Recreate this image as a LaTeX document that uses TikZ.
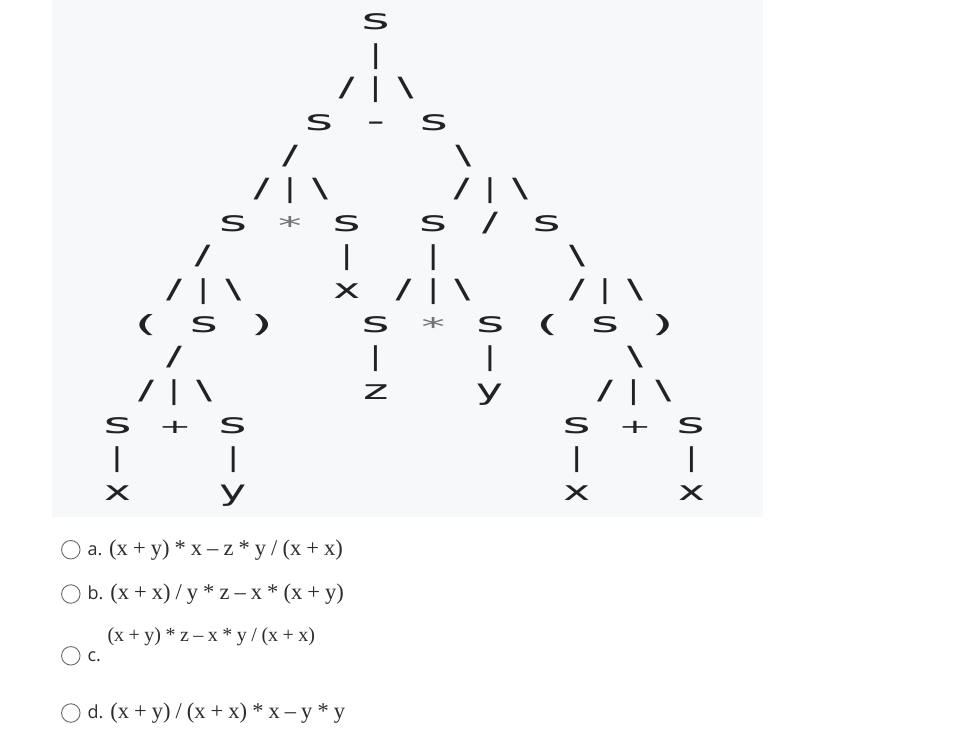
\documentclass[tikz,border=0pt]{standalone}
\usepackage{fontspec}
\usepackage{graphicx}
\newfontfamily\treefont{DejaVu Sans}
\newfontfamily\labfont{Open Sans}
\newfontfamily\exprfont[WordSpace=0.9]{Liberation Serif}
\definecolor{bgc}{RGB}{247,248,250}
\definecolor{ink}{RGB}{34,34,34}
\definecolor{txt}{RGB}{45,45,45}
\definecolor{star}{RGB}{115,115,115}
\definecolor{radio}{RGB}{105,105,105}
\newcommand\Gs{\scalebox{2.0}[1.05]{s}}
\newcommand\Gx{\scalebox{1.68}[1.0]{x}}
\newcommand\Gy{\scalebox{1.68}[1.05]{y}}
\newcommand\Gz{\scalebox{1.8}[1.0]{z}}
\newcommand\Gbar{\scalebox{1.3}[0.96]{\textbar}}
\newcommand\Gsl{\scalebox{1.75}[0.98]{/}}
\newcommand\Gbs{\scalebox{1.75}[0.98]{\textbackslash}}
\newcommand\Glp{\scalebox{2.2}[0.88]{(}}
\newcommand\Grp{\scalebox{2.2}[0.88]{)}}
\newcommand\Gpl{\scalebox{1.45}[0.72]{+}}
\newcommand\Gst{\scalebox{1.75}[0.9]{*}}
\newcommand\Gmi{\scalebox{1.85}[1.0]{-}}
\tikzset{
  glyph/.style={anchor=base, inner sep=0pt, outer sep=0pt, text=ink,
    font={\treefont\fontsize{27}{27}\selectfont}},
  radiobtn/.style={circle, draw=radio, line width=0.9pt, minimum size=18.5pt, inner sep=0pt},
  optline/.style={anchor=base west, inner sep=0pt, outer sep=0pt, text=txt,
    font={\exprfont\fontsize{22.5}{22.5}\selectfont}},
  optsmall/.style={anchor=base west, inner sep=0pt, outer sep=0pt, text=txt,
    font={\exprfont\fontsize{20}{20}\selectfont}},
  optlab/.style={anchor=base west, inner sep=0pt, outer sep=0pt, text=txt,
    font={\labfont\fontsize{18}{18}\selectfont}}
}
\newcommand\Tg[4]{\node[glyph] (#1) at (#2,{29.5+33.64*#3}) {#4};}
\newcommand\Ta[3]{\node[glyph,text=star] (#1) at (#2,{33+33.64*#3}) {\Gst};}
\newcommand\OL{\labfont\fontsize{18}{18}\selectfont}
\begin{document}
\begin{tikzpicture}[x=1pt,y=-1pt]
\useasboundingbox (0,0) rectangle (973,734);
\fill[white] (0,0) rectangle (973,734);
\fill[bgc] (52,0) rectangle (762.5,516.5);
% row 0
\Tg{r0a}{375.8}{0}{\Gs}
% row 1
\Tg{r1a}{375.7}{1}{\Gbar}
% row 2
\Tg{r2a}{346.7}{2}{\Gsl}
\Tg{r2b}{375.5}{2}{\Gbar}
\Tg{r2c}{405.7}{2}{\Gbs}
% row 3
\Tg{r3a}{319.2}{3}{\Gs}
\Tg{r3b}{375.8}{3}{\Gmi}
\Tg{r3c}{434}{3}{\Gs}
% row 4
\Tg{r4a}{290}{4}{\Gsl}
\Tg{r4b}{463.3}{4}{\Gbs}
% row 5
\Tg{r5a}{261.7}{5}{\Gsl}
\Tg{r5b}{290}{5}{\Gbar}
\Tg{r5c}{320}{5}{\Gbs}
\Tg{r5d}{461.7}{5}{\Gsl}
\Tg{r5e}{490}{5}{\Gbar}
\Tg{r5f}{520}{5}{\Gbs}
% row 6
\Tg{r6a}{233.3}{6}{\Gs}
\Ta{r6b}{290}{6}
\Tg{r6c}{346.7}{6}{\Gs}
\Tg{r6d}{433.3}{6}{\Gs}
\Tg{r6e}{490}{6}{\Gsl}
\Tg{r6f}{546.7}{6}{\Gs}
% row 7
\Tg{r7a}{202.5}{7}{\Gsl}
\Tg{r7b}{346.7}{7}{\Gbar}
\Tg{r7c}{433.3}{7}{\Gbar}
\Tg{r7d}{577}{7}{\Gbs}
% row 8
\Tg{r8a}{174}{8}{\Gsl}
\Tg{r8b}{203.3}{8}{\Gbar}
\Tg{r8c}{233.3}{8}{\Gbs}
\Tg{r8d}{346.7}{8}{\Gx}
\Tg{r8e}{403.5}{8}{\Gsl}
\Tg{r8f}{433.3}{8}{\Gbar}
\Tg{r8g}{462.3}{8}{\Gbs}
\Tg{r8h}{576.7}{8}{\Gsl}
\Tg{r8i}{605}{8}{\Gbar}
\Tg{r8j}{635}{8}{\Gbs}
% row 9
\Tg{r9a}{146}{9}{\Glp}
\Tg{r9b}{204}{9}{\Gs}
\Tg{r9c}{261.7}{9}{\Grp}
\Tg{r9d}{375.8}{9}{\Gs}
\Ta{r9e}{433.3}{9}
\Tg{r9f}{490.5}{9}{\Gs}
\Tg{r9g}{547.5}{9}{\Glp}
\Tg{r9h}{605.3}{9}{\Gs}
\Tg{r9i}{662.5}{9}{\Grp}
% row 10
\Tg{r10a}{174}{10}{\Gsl}
\Tg{r10b}{375.5}{10}{\Gbar}
\Tg{r10c}{490}{10}{\Gbar}
\Tg{r10d}{635}{10}{\Gbs}
% row 11
\Tg{r11a}{146}{11}{\Gsl}
\Tg{r11b}{174}{11}{\Gbar}
\Tg{r11c}{204}{11}{\Gbs}
\Tg{r11d}{375.8}{11}{\Gz}
\Tg{r11e}{489.5}{11}{\Gy}
\Tg{r11f}{605}{11}{\Gsl}
\Tg{r11g}{633.5}{11}{\Gbar}
\Tg{r11h}{663.3}{11}{\Gbs}
% row 12
\Tg{r12a}{117.8}{12}{\Gs}
\Tg{r12b}{175}{12}{\Gpl}
\Tg{r12c}{232.8}{12}{\Gs}
\Tg{r12d}{576.7}{12}{\Gs}
\Tg{r12e}{635}{12}{\Gpl}
\Tg{r12f}{690.7}{12}{\Gs}
% row 13
\Tg{r13a}{117}{13}{\Gbar}
\Tg{r13b}{233.3}{13}{\Gbar}
\Tg{r13c}{576.7}{13}{\Gbar}
\Tg{r13d}{691.5}{13}{\Gbar}
% row 14
\Tg{r14a}{117.5}{14}{\Gx}
\Tg{r14b}{232.8}{14}{\Gy}
\Tg{r14c}{576.7}{14}{\Gx}
\Tg{r14d}{691.5}{14}{\Gx}
% options
\node[radiobtn] (ra) at (70.8,549.7) {};
\node[optline] (ta) at (87.5,555.5) {{\OL a.} (x + y) * x – z * y / (x + x)};
\node[radiobtn] (rb) at (70.8,594) {};
\node[optline] (tb) at (87.5,599.5) {{\OL b.} (x + x) / y * z – x * (x + y)};
\node[radiobtn] (rc) at (70.8,655.8) {};
\node[optsmall] (tc) at (107.5,641.5) {(x + y) * z – x * y / (x + x)};
\node[optlab] (lc) at (87.5,661.5) {c.};
\node[radiobtn] (rd) at (70.8,713) {};
\node[optline] (td) at (87.5,718.8) {{\OL d.} (x + y) / (x + x) * x – y * y};
\end{tikzpicture}
\end{document}
